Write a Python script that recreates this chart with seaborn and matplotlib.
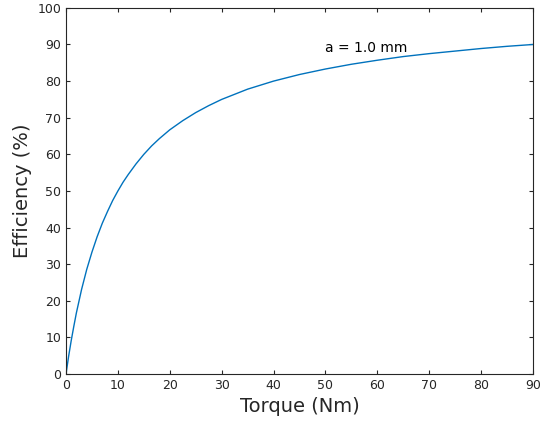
import matplotlib
matplotlib.use("Agg")
import matplotlib.pyplot as plt
import seaborn as sns
import pandas as pd

# values
torque = [0, 0.5, 1, 1.5, 2, 3, 4, 5, 6, 7, 8, 9, 10, 11, 12, 13.5, 15, 16.5, 18, 20, 22.5, 25,
          27.5, 30, 35, 40, 45, 50, 55, 60, 65, 70, 75, 80, 85, 90]
efficiency = [0, 4.8, 9.1, 13.0, 16.7, 23.1, 28.6, 33.3, 37.5, 41.2, 44.4, 47.4, 50.0, 52.4,
              54.5, 57.4, 60.0, 62.3, 64.3, 66.7, 69.2, 71.4, 73.3, 75.0, 77.8, 80.0, 81.8,
              83.3, 84.6, 85.7, 86.7, 87.5, 88.2, 88.9, 89.5, 90.0]
df = pd.DataFrame({"Torque": torque, "Efficiency": efficiency})

sns.set_style("white")
fig = plt.figure(figsize=(5.5, 4.37), dpi=100)
ax = fig.add_axes([0.12, 0.144, 0.849, 0.838])
sns.lineplot(data=df, x="Torque", y="Efficiency", color="#0072BD", linewidth=1, ax=ax)

ax.set_xlim(0, 90)
ax.set_ylim(0, 100)
ax.set_xticks(range(0, 91, 10))
ax.set_yticks(range(0, 101, 10))
ax.tick_params(direction="in", labelsize=9, length=3, top=True, right=True,
               bottom=True, left=True, colors="#262626")
for s in ax.spines.values():
    s.set_color("#262626")
    s.set_linewidth(0.8)
ax.set_xlabel("Torque (Nm)", fontsize=14, color="#262626")
ax.set_ylabel("Efficiency (%)", fontsize=14, color="#262626")
ax.text(50, 88, "a = 1.0 mm", fontsize=10, color="black")

fig.savefig("out.png", dpi=100)
